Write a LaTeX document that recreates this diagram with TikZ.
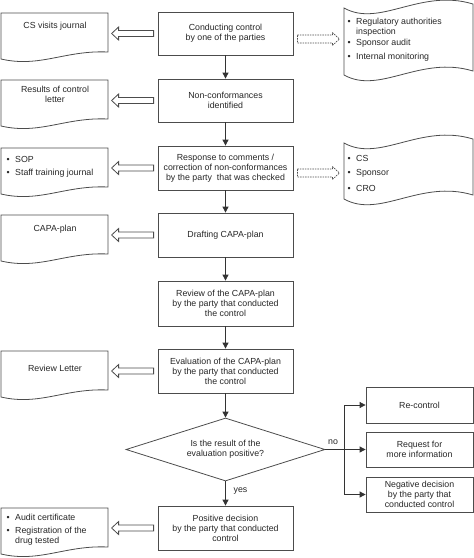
\documentclass[tikz,border=0pt]{standalone}
\usepackage{fontspec}
\setmainfont{Liberation Sans}
\usetikzlibrary{shapes.geometric,arrows.meta,calc}
\newcommand\bul{\makebox[8.5pt][l]{•}}
\newcommand\docpath[1]{\draw[doc] (1,#1) -- (108,#1) -- (108,#1+39) .. controls (65,#1+37) and (40,#1+55) .. (1,#1+46) -- cycle;}
\newcommand\tapepath[2]{\draw[doc] (344,#1) .. controls (380,#1+20) and (420,#1-20) .. (473,#1-4) -- (473,#2-4) .. controls (420,#2-20) and (380,#2+20) .. (344,#2) -- cycle;}
\newcommand\hollowleft[1]{\draw[harrow] ($(#1.west)+(-4,-3)$) -- ++(-35,0) -- ++(0,-3.5) -- ++(-7,6.5) -- ++(7,6.5) -- ++(0,-3.5) -- ++(35,0) -- cycle;}
\newcommand\dashedright[2]{\draw[darrow] ($(#1.east)+(4,#2-4)$) -- ++(35,0) -- ++(0,-2.5) -- ++(7,6.5) -- ++(-7,6.5) -- ++(0,-2.5) -- ++(-35,0) -- cycle;}
\begin{document}
\begin{tikzpicture}[x=1pt,y=-1pt,
  font=\fontsize{8.8}{10}\selectfont,
  every node/.style={text=black!85},
  box/.style={draw=black!70,line width=0.8pt,align=center,minimum width=135pt,inner sep=0pt},
  rbox/.style={draw=black!70,line width=0.8pt,align=center,minimum width=107pt,minimum height=35pt,inner sep=0pt},
  flow/.style={draw=black!80,line width=0.8pt,-{Triangle[length=6pt,width=6pt]}},
  plain/.style={draw=black!80,line width=0.8pt},
  doc/.style={draw=black!70,line width=0.8pt},
  harrow/.style={draw=black!70,line width=0.8pt,fill=white},
  darrow/.style={draw=black!70,line width=0.7pt,dash pattern=on 1.5pt off 1pt},
  lbl/.style={inner sep=0pt,anchor=west},
]
\useasboundingbox (0,0) rectangle (474,558);

% main column
\node[box,minimum height=43pt] (b1) at (225.5,33.5) {Conducting control\\by one of the parties};
\node[box,minimum height=43pt] (b2) at (225.5,100.5) {Non-conformances\\identified};
\node[box,minimum height=44pt] (b3) at (225.5,168) {Response to comments /\\correction of non-conformances\\by the party~ that was checked};
\node[box,minimum height=44pt] (b4) at (225.5,235) {Drafting CAPA-plan};
\node[box,minimum height=45pt] (b5) at (225.5,303.5) {Review of the CAPA-plan\\by the party that conducted\\the control};
\node[box,minimum height=44pt] (b6) at (225.5,371) {Evaluation of the CAPA-plan\\by the party that conducted\\the control};
\node[draw=black!70,line width=0.8pt,diamond,aspect=3.16,minimum width=199pt,minimum height=63pt,inner sep=0pt,align=center] (d) at (225.5,449.5) {Is the result of the\\evaluation positive?};
\node[box,minimum height=44pt] (b7) at (225.5,528) {Positive decision\\by the party that conducted\\control};

% right boxes
\node[rbox,minimum height=36pt] (r1) at (419.5,405) {Re-control};
\node[rbox] (r2) at (419.5,449.5) {Request for\\more information};
\node[rbox] (r3) at (419.5,494.5) {Negative decision\\by the party that\\conducted control};

% flow arrows
\draw[flow] (b1.south) -- (b2.north);
\draw[flow] (b2.south) -- (b3.north);
\draw[flow] (b3.south) -- (b4.north);
\draw[flow] (b4.south) -- (b5.north);
\draw[flow] (b5.south) -- (b6.north);
\draw[flow] (b6.south) -- (d.north);
\draw[flow] (d.south) -- (b7.north);
\node[lbl] (yes) at (233.5,491) {yes};
\coordinate (j) at (344,449.5);
\draw[flow] (d.east) -- (r2.west);
\draw[flow] (j) |- (r1.west);
\draw[flow] (j) |- (r3.west);
\node[lbl] (no) at (328,442) {no};

% left documents
\docpath{13}
\docpath{80}
\docpath{148}
\docpath{215}
\docpath{351}
\docpath{508}
\node (t1) at (55,26) {CS visits journal};
\node[align=center] (t2) at (55,94) {Results of control\\letter};
\node[lbl] (t3a) at (6.5,159) {\bul SOP};
\node[lbl] (t3b) at (6.5,173) {\bul Staff training journal};
\node (t4) at (55,229) {CAPA-plan};
\node (t5) at (55,368) {Review Letter};
\node[lbl] (t6a) at (6.5,517) {\bul Audit certificate};
\node[lbl] (t6b) at (6.5,531) {\bul Registration of the};
\node[lbl] (t6c) at (15,541) {drug tested};

% right tapes
\tapepath{8}{75}
\tapepath{143}{199}
\node[lbl] (u1a) at (347.5,22) {\bul Regulatory authorities};
\node[lbl] (u1b) at (356,32) {inspection};
\node[lbl] (u1c) at (347.5,43.5) {\bul Sponsor audit};
\node[lbl] (u1d) at (347.5,57) {\bul Internal monitoring};
\node[lbl] (u2a) at (347.5,158) {\bul CS};
\node[lbl] (u2b) at (347.5,173) {\bul Sponsor};
\node[lbl] (u2c) at (347.5,188) {\bul CRO};

% hollow arrows
\hollowleft{b1}
\hollowleft{b2}
\hollowleft{b3}
\hollowleft{b4}
\hollowleft{b6}
\hollowleft{b7}
\dashedright{b1}{5.5}
\dashedright{b3}{5}
\end{tikzpicture}
\end{document}
